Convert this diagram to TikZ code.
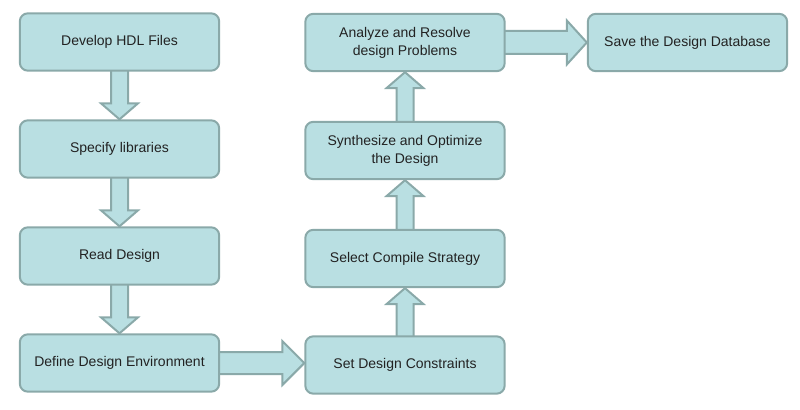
\documentclass[tikz,border=0pt]{standalone}
\usepackage{fontspec}
\setmainfont{Liberation Sans}
\usetikzlibrary{calc,backgrounds}
\definecolor{boxfill}{HTML}{B9DFE2}
\definecolor{boxline}{HTML}{8AA9A9}
\definecolor{txt}{HTML}{222222}
\tikzset{
  flowbox/.style={draw=boxline, fill=boxfill, line width=1.5pt, rounded corners=6pt,
    minimum width=149.5pt, minimum height=43pt, align=center, text=txt,
    font=\fontsize{10.5pt}{13.5pt}\selectfont, inner sep=0pt},
  blockarrow/.style={draw=boxline, fill=boxfill, line width=1.5pt, line join=miter}
}
\begin{document}
\begin{tikzpicture}[x=0.75pt,y=-0.75pt]
\useasboundingbox (0,0) rectangle (800,410);
\node[flowbox] (dev) at (119.5,42) {Develop HDL Files};
\node[flowbox] (spec) at (119.5,149) {Specify libraries};
\node[flowbox] (read) at (119.5,256) {Read Design};
\node[flowbox] (env) at (119.5,363) {Define Design Environment};
\node[flowbox] (cons) at (405,365) {Set Design Constraints};
\node[flowbox] (strat) at (405,258.5) {Select Compile Strategy};
\node[flowbox] (syn) at (405,150.5) {Synthesize and Optimize\\the Design};
\node[flowbox] (ana) at (405,42.5) {Analyze and Resolve\\design Problems};
\node[flowbox] (save) at (687.5,42.5) {Save the Design Database};
\begin{scope}[on background layer]
% downward arrows
\foreach \a/\b in {dev/spec, spec/read, read/env}{
  \draw[blockarrow] ($(\a.south)+(-8.5,-2)$) -- ($(\b.north)+(-8.5,-16)$) -- ($(\b.north)+(-18.5,-16)$)
    -- (\b.north) -- ($(\b.north)+(18.5,-16)$) -- ($(\b.north)+(8.5,-16)$) -- ($(\a.south)+(8.5,-2)$) -- cycle;
}
% upward arrows
\foreach \a/\b in {cons/strat, strat/syn, syn/ana}{
  \draw[blockarrow] ($(\a.north)+(-8.5,2)$) -- ($(\b.south)+(-8.5,16)$) -- ($(\b.south)+(-18.5,16)$)
    -- (\b.south) -- ($(\b.south)+(18.5,16)$) -- ($(\b.south)+(8.5,16)$) -- ($(\a.north)+(8.5,2)$) -- cycle;
}
% rightward arrows
\coordinate (t1) at (cons.west |- env.east);
\draw[blockarrow] ($(env.east)+(-2,-11)$) -- ($(t1)+(-22,-11)$) -- ($(t1)+(-22,-22)$) -- (t1)
  -- ($(t1)+(-22,22)$) -- ($(t1)+(-22,11)$) -- ($(env.east)+(-2,11)$) -- cycle;
\coordinate (t2) at (save.west |- ana.east);
\draw[blockarrow] ($(ana.east)+(-2,-11.5)$) -- ($(t2)+(-20,-11.5)$) -- ($(t2)+(-20,-22)$) -- (t2)
  -- ($(t2)+(-20,22)$) -- ($(t2)+(-20,11.5)$) -- ($(ana.east)+(-2,11.5)$) -- cycle;
\end{scope}
\end{tikzpicture}
\end{document}
